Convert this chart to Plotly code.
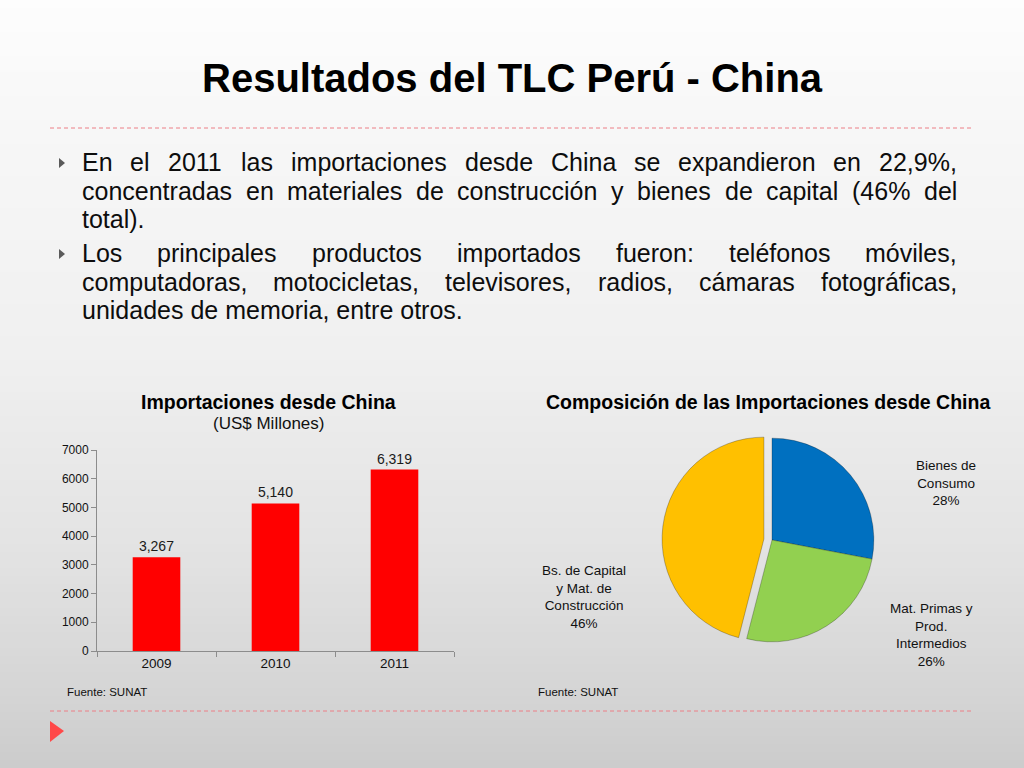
import plotly.graph_objects as go

# ---------------- data ----------------
years = ["2009", "2010", "2011"]
imports_musd = [3267, 5140, 6319]

pie_labels = ["Bienes de<br>Consumo", "Mat. Primas y<br>Prod.<br>Intermedios",
              "Bs. de Capital<br>y Mat. de<br>Construcción"]
pie_values = [28, 26, 46]
pie_colors = ["#0070C0", "#92D050", "#FFC000"]

y_ticks = [0, 1000, 2000, 3000, 4000, 5000, 6000, 7000]

title_text = "Resultados del TLC Perú - China"
bullet1 = ["En el 2011 las importaciones desde China se expandieron en 22,9%,",
           "concentradas en materiales de construcción y bienes de capital (46% del",
           "total)."]
bullet2 = ["Los principales productos importados fueron: teléfonos móviles,",
           "computadoras, motocicletas, televisores, radios, cámaras fotográficas,",
           "unidades de memoria, entre otros."]

bar_title = "Importaciones desde China"
bar_subtitle = "(US$ Millones)"
pie_title = "Composición de las Importaciones desde China"
source_text = "Fuente: SUNAT"

W, H = 1024, 768


def px(x):
    return x / W


def py(y):
    return 1 - y / H


# Arial / Liberation Sans advance widths (per 1000 em)
AW = {' ': 278, 'a': 556, 'b': 556, 'c': 500, 'd': 556, 'e': 556, 'f': 278, 'g': 556,
      'h': 556, 'i': 222, 'j': 222, 'k': 500, 'l': 222, 'm': 833, 'n': 556, 'o': 556,
      'p': 556, 'q': 556, 'r': 333, 's': 500, 't': 278, 'u': 556, 'v': 500, 'w': 722,
      'x': 500, 'y': 500, 'z': 500, ',': 278, '.': 278, '%': 889, '(': 333, ')': 333,
      ':': 278, 'E': 667, 'C': 722, 'L': 556, 'á': 556, 'é': 556, 'í': 222, 'ó': 556,
      'ú': 556}


def text_w(s, size):
    return sum(AW.get(ch, 556) for ch in s) / 1000 * size


fig = go.Figure()

# ---------------- bar chart ----------------
fig.add_trace(go.Bar(
    x=years, y=imports_musd, width=0.4,
    marker=dict(color="#FF0000", line=dict(width=0)),
    text=[f"{v:,}" for v in imports_musd], textposition="outside",
    textfont=dict(size=14, color="#1a1a1a", family="Liberation Sans, Arial"),
    cliponaxis=False, xaxis="x", yaxis="y", showlegend=False,
))

# ---------------- pie chart ----------------
pcx, pcy, pr = 772, 540, 110
fig.add_trace(go.Pie(
    values=pie_values, labels=[l.replace("<br>", " ") for l in pie_labels],
    marker=dict(colors=pie_colors, line=dict(color="rgba(0,0,0,0.25)", width=1)),
    sort=False, direction="clockwise", rotation=0, automargin=False,
    pull=[0, 0, 0.08], textinfo="none", hoverinfo="label+percent",
    domain=dict(x=[px(pcx - pr), px(pcx + pr)], y=[py(pcy + pr), py(pcy - pr)]),
    showlegend=False,
))

shapes = []
# background gradient bands
stops = [(0, 253), (130, 247), (350, 240), (550, 227), (700, 212), (768, 203)]


def grey_at(y):
    for (y0, c0), (y1, c1) in zip(stops[:-1], stops[1:]):
        if y0 <= y <= y1:
            t = (y - y0) / (y1 - y0)
            return round(c0 + t * (c1 - c0))
    return stops[-1][1]


band = 8
for y0 in range(0, H, band):
    g = grey_at(y0 + band / 2)
    shapes.append(dict(type="rect", xref="paper", yref="paper", x0=0, x1=1,
                       y0=py(min(H, y0 + band + 1)), y1=py(y0), fillcolor=f"rgb({g},{g},{g})",
                       line=dict(width=0), layer="below"))

# dashed separator lines
for yy in (128, 711):
    shapes.append(dict(type="line", xref="paper", yref="paper", x0=px(50), x1=px(973),
                       y0=py(yy), y1=py(yy),
                       line=dict(color="#EC7F86", width=1, dash="4px,3px"), layer="above"))

# bullet triangles
for yy in (163, 254):
    shapes.append(dict(type="path", xref="paper", yref="paper",
                       path=f"M {px(59)},{py(yy-5)} L {px(65)},{py(yy)} L {px(59)},{py(yy+5)} Z",
                       fillcolor="#5a5a5a", line=dict(width=0)))
# red footer triangle
shapes.append(dict(type="path", xref="paper", yref="paper",
                   path=f"M {px(50)},{py(721)} L {px(64)},{py(731)} L {px(50)},{py(742)} Z",
                   fillcolor="#FF4848", line=dict(width=0)))

annotations = []


def ann(text, x, y, size, bold=False, xanchor="center", color="#111111"):
    annotations.append(dict(
        text=f"<b>{text}</b>" if bold else text, x=px(x), y=py(y), xref="paper", yref="paper",
        xanchor=xanchor, yanchor="middle", showarrow=False, borderpad=0, borderwidth=0,
        font=dict(size=size, color=color, family="Liberation Sans, Arial")))


ann(title_text, 512, 78, 40, bold=True, color="#000000")

# body text (justified)
BODY = 25
X0, X1 = 82, 957


def add_para(lines, y_start, spacing=28.7):
    for i, line in enumerate(lines):
        yy = y_start + i * spacing
        words = line.split(" ")
        justified = i < len(lines) - 1
        if not justified:
            ann(line, X0, yy, BODY, xanchor="left", color="#0d0d0d")
            continue
        ws = [text_w(w, BODY) for w in words]
        gap = (X1 - X0 - sum(ws)) / (len(words) - 1)
        x = X0
        for w, wd in zip(words, ws):
            ann(w, x, yy, BODY, xanchor="left", color="#0d0d0d")
            x += wd + gap


add_para(bullet1, 162)
add_para(bullet2, 253)

# chart titles
ann(bar_title, 268, 402, 19.5, bold=True, color="#000000")
ann(bar_subtitle, 268, 423, 17, color="#111111")
ann(pie_title, 768, 402, 19.5, bold=True, color="#000000")
ann(source_text, 67, 692, 11.5, xanchor="left")
ann(source_text, 538, 692, 11.5, xanchor="left")

# pie labels
label_pos = [(946, 483), (931, 635), (584, 597)]
for lab, val, (lx, ly) in zip(pie_labels, pie_values, label_pos):
    ann(f"{lab}<br>{val}%", lx, ly, 13.5, color="#111111")

fig.update_layout(
    template="none",
    width=W, height=H, margin=dict(l=0, r=0, t=0, b=0, pad=0, autoexpand=False),
    paper_bgcolor="rgb(203,203,203)", plot_bgcolor="rgba(0,0,0,0)",
    font=dict(family="Liberation Sans, Arial", color="#111111"),
    shapes=shapes, annotations=annotations,
    xaxis=dict(domain=[px(97), px(454)], type="category", showgrid=False, automargin=False,
               showline=True, linecolor="#8c8c8c", linewidth=1, zeroline=False,
               ticks="outside", tickson="boundaries", ticklen=5, tickcolor="#8c8c8c",
               tickfont=dict(size=13.5, color="#111111"), fixedrange=True),
    yaxis=dict(domain=[py(651), py(450)], range=[0, 7000], tickvals=y_ticks, automargin=False,
               tickformat="d", showgrid=False, zeroline=False,
               showline=True, linecolor="#8c8c8c", linewidth=1,
               ticks="outside", ticklen=5, tickcolor="#8c8c8c",
               tickfont=dict(size=12, color="#111111"), fixedrange=True),
    bargap=0.6,
)

fig.write_html("out.html")
